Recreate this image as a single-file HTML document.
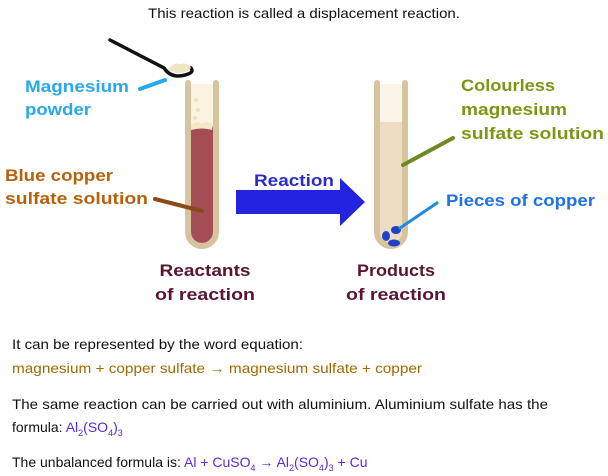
<!DOCTYPE html>
<html><head><meta charset="utf-8"><style>
html,body{margin:0;padding:0;background:#fff;}
svg{display:block}
.b{font-family:"Liberation Sans",sans-serif;font-weight:bold;font-size:17px}
.t{font-family:"Liberation Sans",sans-serif;font-size:14px;fill:#111}
</style></head><body>
<svg width="608" height="476" viewBox="0 0 608 476" xmlns="http://www.w3.org/2000/svg">
<text class="t" x="304" y="18" text-anchor="middle" textLength="312" lengthAdjust="spacingAndGlyphs">This reaction is called a displacement reaction.</text>

<!-- tube 1 -->
<path d="M185 84 q0 -4 3 -4 q3 0 3 4 V232 a11 11 0 0 0 22 0 V84 q0 -4 3 -4 q3 0 3 4 V232 a17 17 0 0 1 -34 0 Z" fill="#d8c39f"/>
<path d="M191 84 H213 V232 a11 11 0 0 1 -22 0 Z" fill="#faf3e2"/>
<path d="M191 126 H213 V232 a11 11 0 0 1 -22 0 Z" fill="#a54d55"/>
<path d="M191 126 q6 -6 11 -2 q5 -4 11 1 l-1 5 q-10 -3 -21 0z" fill="#f3e6c9"/>
<circle cx="196" cy="100" r="2" fill="#eee0c0"/><circle cx="198" cy="110" r="2" fill="#eee0c0"/><circle cx="195" cy="118" r="2" fill="#eee0c0"/>
<!-- spoon -->
<path d="M110 40 L164 68 Q172 80 188 74 Q194 72 191 68" fill="none" stroke="#111" stroke-width="3.5" stroke-linecap="round"/>
<path d="M168 70 q4 -8 12 -6 q8 -2 11 4 q-6 6 -14 5z" fill="#f1e5c8"/>
<!-- tube 2 -->
<path d="M374 84 q0 -4 3 -4 q3 0 3 4 V232 a11 11 0 0 0 22 0 V84 q0 -4 3 -4 q3 0 3 4 V232 a17 17 0 0 1 -34 0 Z" fill="#d8c39f"/>
<path d="M380 84 H402 V232 a11 11 0 0 1 -22 0 Z" fill="#fbf5e7"/>
<path d="M380 122 H402 V232 a11 11 0 0 1 -22 0 Z" fill="#ecdcc2"/>
<ellipse cx="386" cy="236" rx="4" ry="5" fill="#1f40c8"/>
<ellipse cx="396" cy="230" rx="5" ry="4" fill="#1f40c8"/>
<ellipse cx="394" cy="243" rx="6" ry="3.5" fill="#1f40c8"/>
<!-- arrow -->
<path d="M236 190 H340 V178 L365 202 L340 226 V214 H236 Z" fill="#2323e0"/>
<text class="b" x="294" y="186" text-anchor="middle" fill="#2b2bcc" textLength="80" lengthAdjust="spacingAndGlyphs">Reaction</text>

<!-- left labels -->
<text class="b" x="25" y="92" fill="#27a9ea" textLength="104" lengthAdjust="spacingAndGlyphs">Magnesium</text>
<text class="b" x="25" y="115" fill="#27a9ea" textLength="66" lengthAdjust="spacingAndGlyphs">powder</text>
<line x1="140" y1="89" x2="165" y2="80" stroke="#27a9ea" stroke-width="4" stroke-linecap="round"/>
<text class="b" x="5" y="181" fill="#b6610b" textLength="108" lengthAdjust="spacingAndGlyphs">Blue copper</text>
<text class="b" x="5" y="204" fill="#b6610b" textLength="143" lengthAdjust="spacingAndGlyphs">sulfate solution</text>
<line x1="155" y1="199" x2="202" y2="211" stroke="#8a4a1a" stroke-width="4" stroke-linecap="round"/>

<text class="b" x="205" y="276" text-anchor="middle" fill="#5a1532" textLength="91" lengthAdjust="spacingAndGlyphs">Reactants</text>
<text class="b" x="205" y="300" text-anchor="middle" fill="#5a1532" textLength="100" lengthAdjust="spacingAndGlyphs">of reaction</text>
<text class="b" x="396" y="276" text-anchor="middle" fill="#5a1532" textLength="78" lengthAdjust="spacingAndGlyphs">Products</text>
<text class="b" x="396" y="300" text-anchor="middle" fill="#5a1532" textLength="100" lengthAdjust="spacingAndGlyphs">of reaction</text>

<!-- right labels -->
<text class="b" x="461" y="91" fill="#7a9612" textLength="94" lengthAdjust="spacingAndGlyphs">Colourless</text>
<text class="b" x="461" y="115" fill="#7a9612" textLength="106" lengthAdjust="spacingAndGlyphs">magnesium</text>
<text class="b" x="461" y="139" fill="#7a9612" textLength="143" lengthAdjust="spacingAndGlyphs">sulfate solution</text>
<line x1="403" y1="165" x2="453" y2="138" stroke="#6e8a22" stroke-width="4" stroke-linecap="round"/>
<text class="b" x="446" y="206" fill="#1e72e6" textLength="149" lengthAdjust="spacingAndGlyphs">Pieces of copper</text>
<line x1="400" y1="228" x2="437" y2="203" stroke="#1e8ae6" stroke-width="3" stroke-linecap="round"/>

<!-- bottom text -->
<text class="t" x="12" y="349" textLength="291" lengthAdjust="spacingAndGlyphs">It can be represented by the word equation:</text>
<text class="t" x="12" y="373" style="fill:#a06a00" textLength="410" lengthAdjust="spacingAndGlyphs">magnesium + copper sulfate → magnesium sulfate + copper</text>
<text class="t" x="12" y="409" textLength="536" lengthAdjust="spacingAndGlyphs">The same reaction can be carried out with aluminium. Aluminium sulfate has the</text>
<text class="t" x="12" y="432">formula: <tspan style="fill:#5b2bd8">Al<tspan font-size="9" dy="4">2</tspan><tspan dy="-4">(SO</tspan><tspan font-size="9" dy="4">4</tspan><tspan dy="-4">)</tspan><tspan font-size="9" dy="4">3</tspan></tspan></text>
<text class="t" x="12" y="467">The unbalanced formula is: <tspan style="fill:#5b2bd8">Al + CuSO<tspan font-size="9" dy="4">4</tspan><tspan dy="-4"> → Al</tspan><tspan font-size="9" dy="4">2</tspan><tspan dy="-4">(SO</tspan><tspan font-size="9" dy="4">4</tspan><tspan dy="-4">)</tspan><tspan font-size="9" dy="4">3</tspan><tspan dy="-4"> + Cu</tspan></tspan></text>
</svg>
</body></html>
